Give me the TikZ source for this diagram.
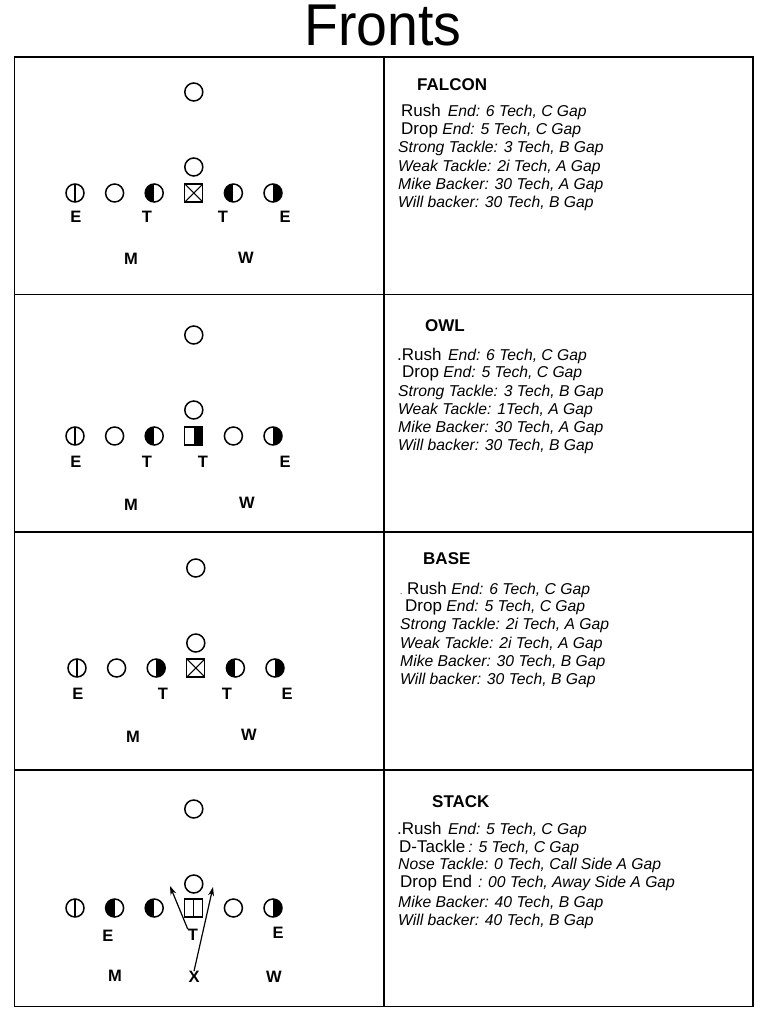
\documentclass[tikz,border=0pt]{standalone}
\usepackage{fontspec}
\setmainfont{Liberation Sans}
\usepackage{graphicx}
\usepackage{tikz}
\usetikzlibrary{arrows,arrows.meta,positioning}
\tikzset{
    %Define standard arrow tip
    >=stealth',
    %Define styles for players
    man/.style={
           circle,
           draw=black, line width=1.5pt,
           minimum size=18pt,
           inner sep=0pt, outer sep=0pt},
    opn/.style={man},
    vcirc/.style={man,
           path picture={\draw[line width=1.5pt] (path picture bounding box.north) -- (path picture bounding box.south);}},
    lhalf/.style={man,
           path picture={\fill (path picture bounding box.south west) rectangle (path picture bounding box.north);}},
    rhalf/.style={man,
           path picture={\fill (path picture bounding box.south) rectangle (path picture bounding box.north east);}},
    ctr/.style={
           rectangle,
           draw=black, line width=1.2pt,
           minimum size=18pt,
           inner sep=0pt, outer sep=0pt},
    xsq/.style={ctr,
           path picture={\draw[line width=1pt] (path picture bounding box.north west) -- (path picture bounding box.south east)
                 (path picture bounding box.north east) -- (path picture bounding box.south west);}},
    rsq/.style={ctr,
           path picture={\fill (path picture bounding box.south) rectangle (path picture bounding box.north east);}},
    vsq/.style={ctr,
           path picture={\draw[line width=1.2pt] (path picture bounding box.north) -- (path picture bounding box.south);}},
    %Define styles for texts
    spot/.style={
           font=\fontsize{16.5}{16.5}\selectfont\bfseries,
           inner sep=0pt},
    front/.style={
           anchor=west,
           font=\fontsize{17}{17}\selectfont\bfseries,
           inner sep=0pt},
    rule/.style={
           anchor=west, yshift=-1.5pt,
           font=\fontsize{15.7}{18}\selectfont\itshape,
           inner sep=0pt},
    % Define arrow style
    pil/.style={
           ->, >={Stealth[length=9pt,width=6pt]},
           line width=1.2pt}
}
\newcommand\role[1]{{\fontsize{17}{18}\selectfont\upshape #1}}

\begin{document}
\begin{tikzpicture}[x=1pt,y=-1pt,node distance=21.6pt]
\useasboundingbox (0,0) rectangle (768,1024);
\node[font=\fontsize{59}{59}\selectfont, anchor=base, inner sep=0pt](title) at (383,46){\scalebox{0.94}[1]{Fronts}};
% frame
\draw[line width=1.2pt] (14.5,57) rectangle (753,1006.5);
\draw[line width=1.2pt] (384,57) -- (384,1006.5);
\draw[line width=1.2pt] (14.5,294.5) -- (753,294.5);
\draw[line width=1.2pt] (14.5,532) -- (753,532);
\draw[line width=1.2pt] (14.5,770) -- (753,770);

% FALCON
\node[vcirc](a1) at (75,193){};
\node[opn, right=of a1](a2){};
\node[lhalf, right=of a2](a3){};
\node[xsq, right=of a3](a4){};
\node[lhalf, right=of a4](a5){};
\node[rhalf, right=of a5](a6){};
\node[opn, above=8pt of a4](a7){};
\node[opn, above=57pt of a7](a8){};
\node[spot](ae1) at (76,217){E};
\node[spot](at1) at (147,217){T};
\node[spot](at2) at (223,217){T};
\node[spot](ae2) at (285,217){E};
\node[spot](am) at (131,259){M};
\node[spot](aw) at (246,258){W};
\node[front](f1) at (417,85){FALCON};
\node[rule](r11) at (401,110){\role{Rush}\hspace{7pt}End: 6 Tech, C Gap};
\node[rule](r12) at (401,129){\role{Drop} End: 5 Tech, C Gap};
\node[rule](r13) at (398,147){Strong Tackle: 3 Tech, B Gap};
\node[rule](r14) at (398,166){Weak Tackle: 2i Tech, A Gap};
\node[rule](r15) at (398,184){Mike Backer: 30 Tech, A Gap};
\node[rule](r16) at (398,202){Will backer: 30 Tech, B Gap};

% OWL
\node[vcirc](b1) at (75,436){};
\node[opn, right=of b1](b2){};
\node[lhalf, right=of b2](b3){};
\node[rsq, right=of b3](b4){};
\node[opn, right=of b4](b5){};
\node[rhalf, right=of b5](b6){};
\node[opn, above=8pt of b4](b7){};
\node[opn, above=57pt of b7](b8){};
\node[spot](be1) at (76,462){E};
\node[spot](bt1) at (147,462){T};
\node[spot](bt2) at (203,462){T};
\node[spot](be2) at (285,462){E};
\node[spot](bm) at (131,505){M};
\node[spot](bw) at (247,503){W};
\node[front](f2) at (425,326){OWL};
\node[rule](r21) at (397,354){\role{.Rush}\hspace{6.5pt}End: 6 Tech, C Gap};
\node[rule](r22) at (402,372){\role{Drop} End: 5 Tech, C Gap};
\node[rule](r23) at (398,391){Strong Tackle: 3 Tech, B Gap};
\node[rule](r24) at (398,409){Weak Tackle: 1Tech, A Gap};
\node[rule](r25) at (398,427){Mike Backer: 30 Tech, A Gap};
\node[rule](r26) at (398,445){Will backer: 30 Tech, B Gap};

% BASE
\node[vcirc](c1) at (77,668){};
\node[opn, right=of c1](c2){};
\node[rhalf, right=of c2](c3){};
\node[xsq, right=of c3](c4){};
\node[lhalf, right=of c4](c5){};
\node[rhalf, right=of c5](c6){};
\node[opn, above=7pt of c4](c7){};
\node[opn, above=57pt of c7](c8){};
\node[spot](ce1) at (78,694){E};
\node[spot](ct1) at (163,694){T};
\node[spot](ct2) at (227,694){T};
\node[spot](ce2) at (287,694){E};
\node[spot](cm) at (133,737){M};
\node[spot](cw) at (249,735){W};
\node[front](f3) at (423,559){BASE};
\node[rule](r31) at (400,588){{\fontsize{8}{8}\selectfont\upshape.}\hspace{4.8pt}\role{Rush} End: 6 Tech, C Gap};
\node[rule](r32) at (405,606){\role{Drop} End: 5 Tech, C Gap};
\node[rule](r33) at (400,624){Strong Tackle: 2i Tech, A Gap};
\node[rule](r34) at (400,643){Weak Tackle: 2i Tech, A Gap};
\node[rule](r35) at (400,661){Mike Backer: 30 Tech, B Gap};
\node[rule](r36) at (400,679){Will backer: 30 Tech, B Gap};

% STACK
\node[vcirc](d1) at (75,908){};
\node[lhalf, right=of d1](d2){};
\node[lhalf, right=of d2](d3){};
\node[vsq, right=of d3](d4){};
\node[opn, right=of d4](d5){};
\node[rhalf, right=of d5](d6){};
\node[opn, above=6pt of d4](d7){};
\node[opn, above=57pt of d7](d8){};
\node[spot](de1) at (108,936){E};
\node[spot](dt) at (193,935){T};
\node[spot](de2) at (278,933){E};
\node[spot](dm) at (115,976){M};
\node[spot](dx) at (194,977){X};
\node[spot](dw) at (274,977){W};
\coordinate (h1) at (170,886);
\coordinate (h2) at (213,887);
\draw[pil] (dt.north west) -- (h1);
\draw[pil] (dx.north) -- (h2);
\node[front](f4) at (432,802){STACK};
\node[rule](r41) at (397,828){\role{.Rush}\hspace{6.5pt}End: 5 Tech, C Gap};
\node[rule](r42) at (399,846){\role{D-Tackle}\hspace{3pt}: 5 Tech, C Gap};
\node[rule](r43) at (398,864){Nose Tackle: 0 Tech, Call Side A Gap};
\node[rule](r44) at (400,882){\role{Drop End}\hspace{6pt}: 00 Tech, Away Side A Gap};
\node[rule](r45) at (398,902){Mike Backer: 40 Tech, B Gap};
\node[rule](r46) at (398,920){Will backer: 40 Tech, B Gap};
\end{tikzpicture}
\end{document}
